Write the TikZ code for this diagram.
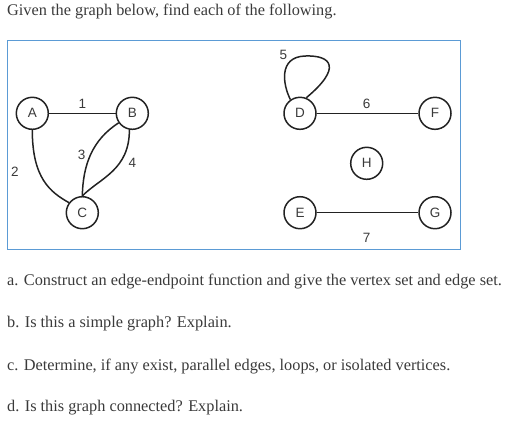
\documentclass[tikz,border=0pt]{standalone}
\usepackage{fontspec}
\setmainfont{Liberation Serif}
\newfontfamily\lblfont{Liberation Sans}
\definecolor{txt}{HTML}{3A3A3A}
\definecolor{frame}{HTML}{5B9BD5}
\definecolor{edge}{HTML}{222222}
\begin{document}
\begin{tikzpicture}[x=1pt,y=-1pt,
  vtx/.style={circle,draw=edge,line width=1.5pt,minimum size=32pt,inner sep=0pt,font=\lblfont\fontsize{13.5}{13.5}\selectfont,text=txt},
  lnk/.style={draw=edge,line width=1.5pt},
  elab/.style={font=\lblfont\fontsize{13.5}{13.5}\selectfont,text=txt,inner sep=0pt},
  para/.style={anchor=base west,font=\rmfamily\fontsize{16.3}{19}\selectfont,text=txt,inner sep=0pt}]
\useasboundingbox (0,0) rectangle (516,429);
\node[para] (t0) at (7,15) {Given the graph below, find each of the following.};
\draw[frame,line width=0.9pt] (7.3,40.7) rectangle (460.7,249.3);
\node[vtx] (A) at (32.3,113.3) {A};
\node[vtx] (B) at (132.3,113.3) {B};
\node[vtx] (C) at (82.3,212.7) {C};
\node[vtx] (D) at (300,113.3) {D};
\node[vtx] (F) at (435,113.3) {F};
\node[vtx] (H) at (366.7,163.3) {H};
\node[vtx] (E) at (300,212.7) {E};
\node[vtx] (G) at (435,212.7) {G};
\draw[lnk] (A) -- (B);
\draw[lnk] (A.south) .. controls (32.3,178) and (50,192) .. (C.143);
\draw[lnk] (B.215) .. controls (92,140) and (83,165) .. (C.north);
\draw[lnk] (B.260) .. controls (129.5,170) and (100,178) .. (C.north);
\draw[lnk] (D.125) .. controls (283,85) and (278,57) .. (305,56) .. controls (332,55) and (342,68) .. (D.68);
\draw[lnk] (D) -- (F);
\draw[lnk] (E) -- (G);
\node[elab] (l1) at (82.3,104) {1};
\node[elab] (l2) at (15,171.7) {2};
\node[elab] (l3) at (81.7,155) {3};
\node[elab] (l4) at (132.3,163.3) {4};
\node[elab] (l5) at (283.3,55) {5};
\node[elab] (l6) at (366.7,104) {6};
\node[elab] (l7) at (366.7,238.3) {7};
\node[para] (ta) at (7,285.5) {a. Construct an edge-endpoint function and give the vertex set and edge set.};
\node[para] (tb) at (7,327.5) {b. Is this a simple graph? Explain.};
\node[para] (tc) at (7,370) {c. Determine, if any exist, parallel edges, loops, or isolated vertices.};
\node[para] (td) at (7,411.5) {d. Is this graph connected? Explain.};
\end{tikzpicture}
\end{document}
